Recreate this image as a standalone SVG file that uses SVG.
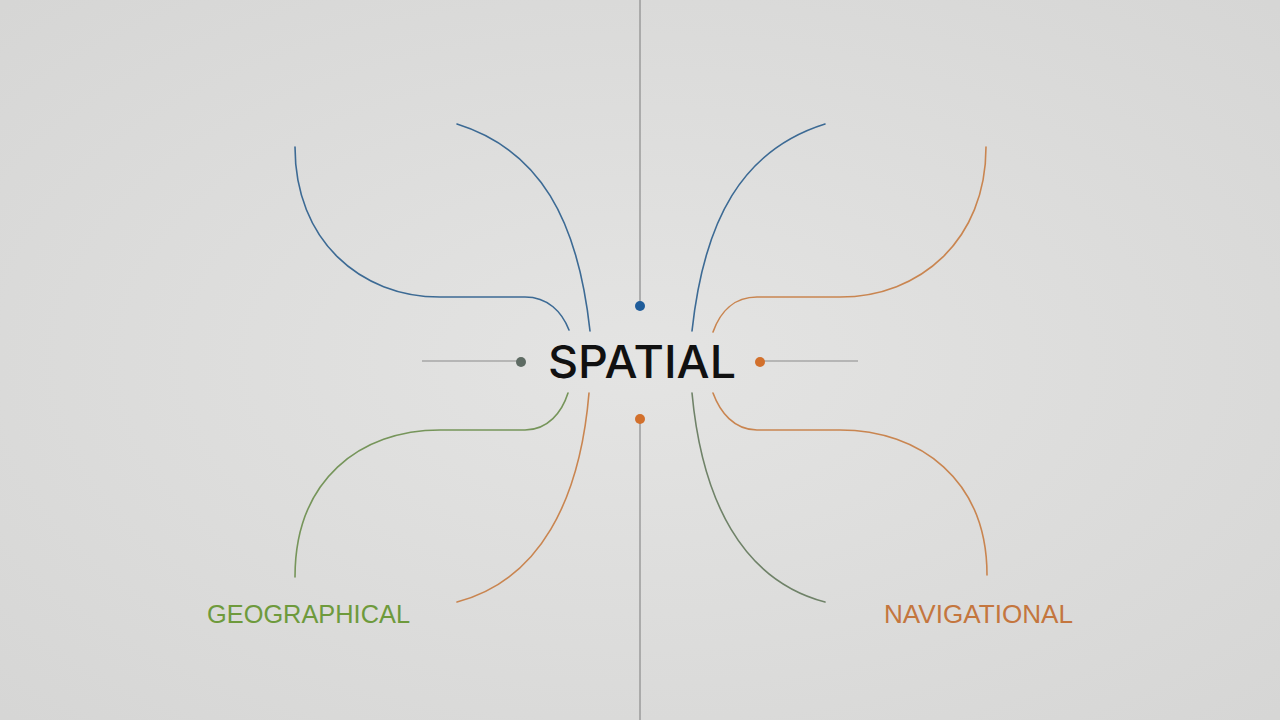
<svg xmlns="http://www.w3.org/2000/svg" width="1280" height="720" viewBox="0 0 1280 720">
<defs>
<radialGradient id="bg" cx="50%" cy="50%" r="70%">
<stop offset="0" stop-color="#e4e4e3"/>
<stop offset="1" stop-color="#d6d6d5"/>
</radialGradient>
<style>
.c{fill:none;stroke-width:1.6;stroke-linecap:round}
.blue{stroke:#3c6a94}
.orange{stroke:#c98550}
.green{stroke:#76955a}
.olive{stroke:#6f8268}
.axis{stroke:#8a8a8a;stroke-width:1.2;fill:none}
.lbl{font-family:"Liberation Sans",Arial,sans-serif;font-size:25px}
</style>
</defs>
<rect width="1280" height="720" fill="url(#bg)"/>
<g id="connectors">
<line class="axis" x1="640" y1="0" x2="640" y2="306"/>
<line class="axis" x1="640" y1="418" x2="640" y2="720"/>
<line class="axis" x1="422" y1="361" x2="520" y2="361"/>
<line class="axis" x1="760" y1="361" x2="858" y2="361"/>
<path class="c blue" d="M295,147 C295,240 360,297 440,297 L525,297 C548,297 562,312 569,330"/>
<path class="c blue" d="M457,124 C540,150 578,220 590,331"/>
<path class="c blue" d="M825,124 C742,150 704,220 692,331"/>
<path class="c orange" d="M986,147 C986,240 920,297 840,297 L757,297 C734,297 720,312 713,332"/>
<path class="c green" d="M568,393 C562,412 548,430 525,430 L440,430 C360,430 295,480 295,577"/>
<path class="c orange" d="M589,393 C580,500 540,580 457,602"/>
<path class="c olive" d="M692,393 C702,500 742,580 825,602"/>
<path class="c orange" d="M713,393 C720,412 734,430 757,430 L840,430 C920,430 987,480 987,575"/>
</g>
<g id="dots">
<circle cx="640" cy="306" r="5" fill="#1f5c9a"/>
<circle cx="640" cy="419" r="5" fill="#d2702c"/>
<circle cx="521" cy="362" r="5" fill="#5e6b63"/>
<circle cx="760" cy="362" r="5" fill="#d2702c"/>
</g>
<g id="spatial">
<text x="642" y="378" text-anchor="middle" font-family="Inter, 'Noto Sans', sans-serif" font-weight="500" font-size="45" fill="#111" textLength="188" lengthAdjust="spacingAndGlyphs">SPATIAL</text>
</g>
<g id="geographical">
<text class="lbl" x="207" y="623" fill="#6e9a3c" textLength="203" lengthAdjust="spacingAndGlyphs">GEOGRAPHICAL</text>
</g>
<g id="navigational">
<text class="lbl" x="884" y="623" fill="#c4763e" textLength="189" lengthAdjust="spacingAndGlyphs">NAVIGATIONAL</text>
</g>
</svg>
